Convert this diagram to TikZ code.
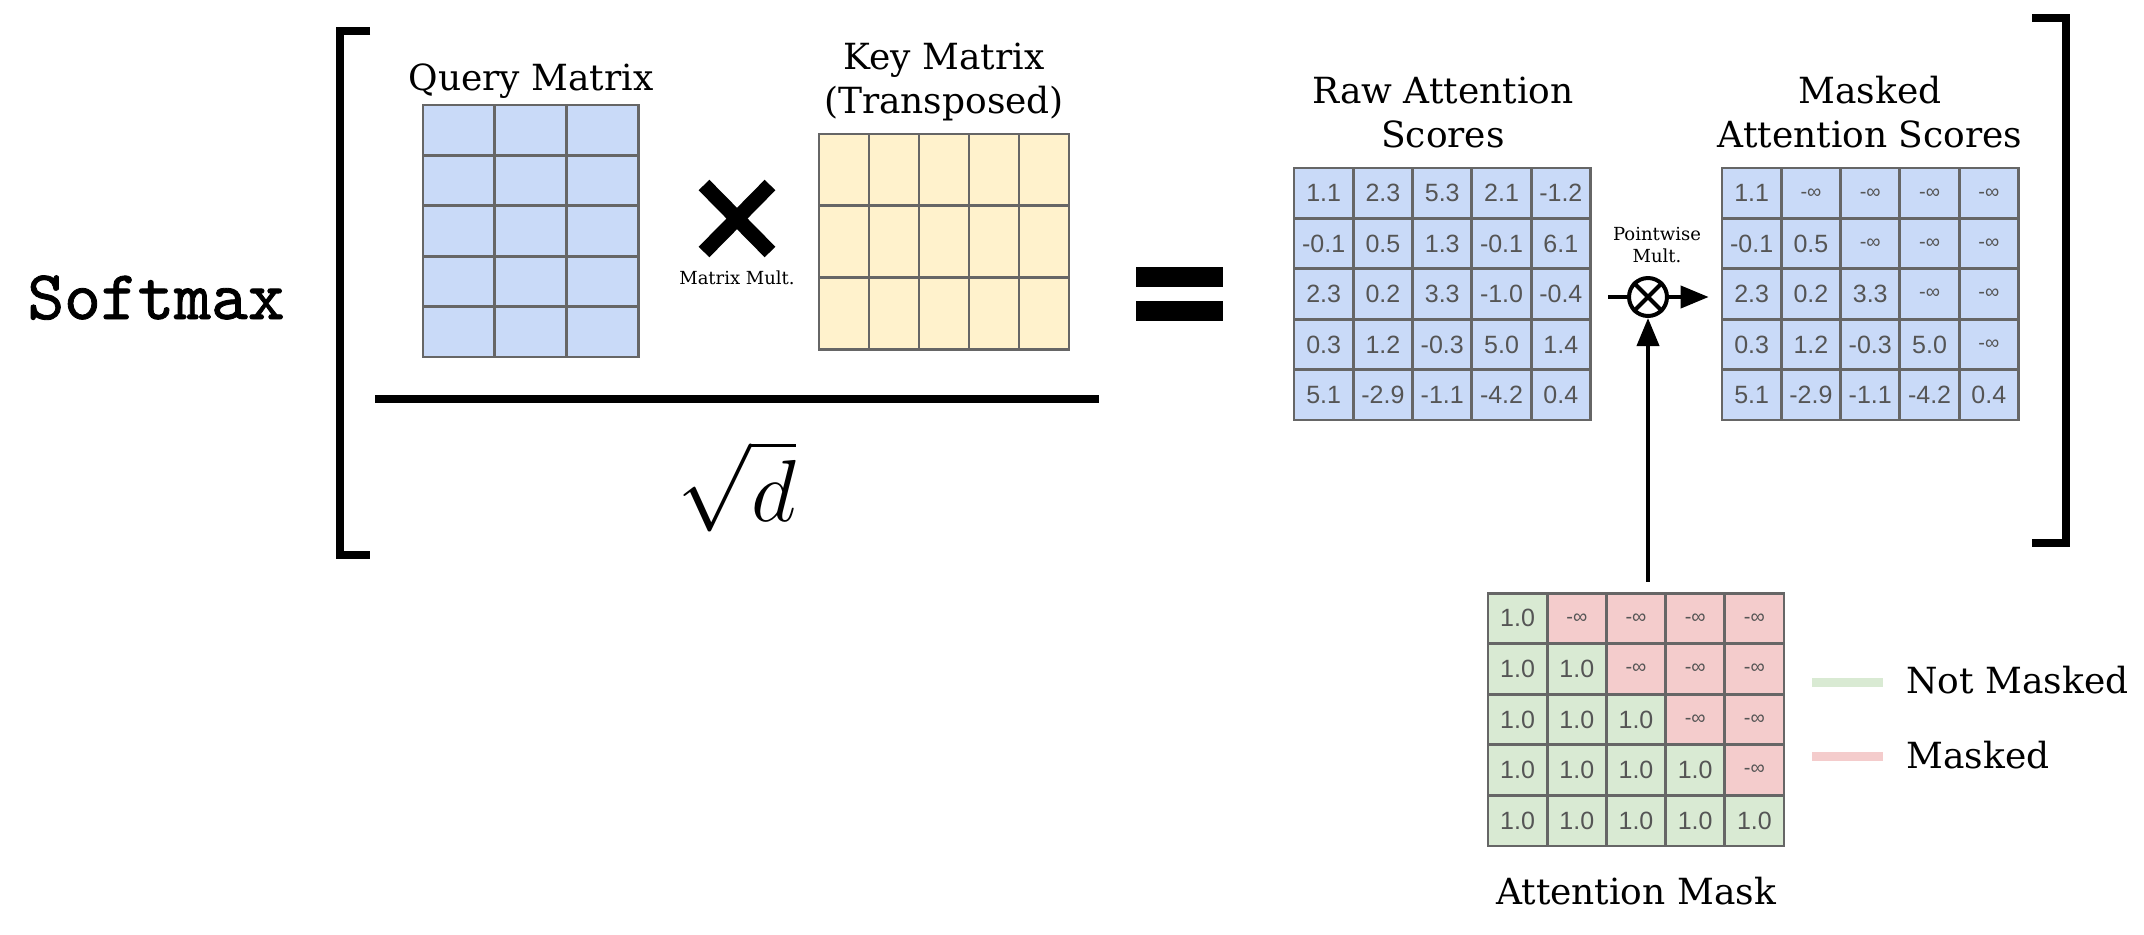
\RequirePackage{fix-cm}
\documentclass[tikz,border=0pt]{standalone}
\usepackage{amsmath}
\usepackage{fontspec}
\setmainfont{DejaVu Serif}
\setsansfont{Liberation Sans}
\newfontfamily\smfont[FakeBold=1.2]{lmmono10-regular.otf}
\usepackage{tikz}
\usetikzlibrary{arrows.meta}

\definecolor{qblue}{HTML}{C9DAF8}
\definecolor{kyellow}{HTML}{FFF2CC}
\definecolor{mgreen}{HTML}{D9EAD3}
\definecolor{mred}{HTML}{F4CCCC}
\definecolor{gridgray}{HTML}{666666}
\definecolor{numgray}{HTML}{555555}
\newcommand{\ninf}{{\fontsize{10}{10}\selectfont -∞}}

\begin{document}
\begin{tikzpicture}[x=0.5pt,y=-0.5pt,
  lbl/.style={inner sep=0pt,font=\fontsize{18}{22}\selectfont,align=center},
  small/.style={inner sep=0pt,font=\fontsize{9}{11}\selectfont,align=center},
  cell/.style={draw=gridgray,line width=1.4pt,inner sep=0pt,minimum width=29.6pt,minimum height=25.2pt,text=numgray,font=\sffamily\fontsize{12.5}{12.5}\selectfont},
  qcell/.style={cell,fill=qblue,minimum width=35.85pt},
  kcell/.style={cell,fill=kyellow,minimum width=25pt,minimum height=35.85pt},
  brack/.style={line width=4pt},
  arr/.style={line width=2pt,-{Triangle[length=14pt,width=11pt]}}]
  \useasboundingbox (0,0) rectangle (2144,934);

  \node[inner sep=0pt,font=\smfont\fontsize{35}{35}\selectfont,anchor=base] (sm) at (156,319) {Softmax};
  \draw[brack] (370,31) -- (340,31) -- (340,555) -- (370,555);
  \draw[brack] (2032,18) -- (2066,18) -- (2066,543) -- (2032,543);

  % query and key
  \node[lbl,anchor=base] (ql) at (531,90) {Query Matrix};
  \foreach \i in {1,...,5}
    \foreach \j in {1,2,3}
      \node[qcell] (q\i\j) at ({423+71.7*(\j-0.5)},{105+50.4*(\i-0.5)}) {};
  \draw[line width=7.5pt] (704,185) -- (770,252);
  \draw[line width=7.5pt] (770,185) -- (704,252);
  \node[small,anchor=base] (mm) at (737,284) {Matrix Mult.};
  \node[lbl] (kl) at (944,82) {Key Matrix\\(Transposed)};
  \foreach \i in {1,2,3}
    \foreach \j in {1,...,5}
      \node[kcell] (k\i\j) at ({819+50*(\j-0.5)},{134+71.7*(\i-0.5)}) {};
  \draw[line width=4.2pt] (375,399) -- (1099,399);
  \node[inner sep=0pt,font=\fontsize{44}{44}\selectfont] (sq) at (737,486) {$\sqrt{d}$};

  \fill (1136,267) rectangle (1223,287);
  \fill (1136,301) rectangle (1223,321);

  % scores
  \node[lbl] (rl) at (1443,112) {Raw Attention\\Scores};
  \foreach \row [count=\i] in {{1.1,2.3,5.3,2.1,-1.2},{-0.1,0.5,1.3,-0.1,6.1},{2.3,0.2,3.3,-1.0,-0.4},{0.3,1.2,-0.3,5.0,1.4},{5.1,-2.9,-1.1,-4.2,0.4}}
    \foreach \v [count=\j] in \row
      \node[cell,fill=qblue] (raw\i\j) at ({1294+59.3*(\j-0.5)},{168+50.4*(\i-0.5)}) {\v};
  \node[lbl] (ml) at (1870,112) {Masked\\Attention Scores};
  \foreach \row [count=\i] in {{1.1,\ninf,\ninf,\ninf,\ninf},{-0.1,0.5,\ninf,\ninf,\ninf},{2.3,0.2,3.3,\ninf,\ninf},{0.3,1.2,-0.3,5.0,\ninf},{5.1,-2.9,-1.1,-4.2,0.4}}
    \foreach \v [count=\j] in \row
      \node[cell,fill=qblue] (msk\i\j) at ({1722+59.3*(\j-0.5)},{168+50.4*(\i-0.5)}) {\v};

  % mask
  \foreach \i in {1,...,5}
    \foreach \j in {1,...,5}{
      \ifnum\j>\i
        \node[cell,fill=mred] (am\i\j) at ({1488+59.2*(\j-0.5)},{593+50.6*(\i-0.5)}) {\ninf};
      \else
        \node[cell,fill=mgreen] (am\i\j) at ({1488+59.2*(\j-0.5)},{593+50.6*(\i-0.5)}) {1.0};
      \fi}
  \node[lbl,anchor=base] (al) at (1636,904) {Attention Mask};

  % pointwise mult
  \node[small] (pw) at (1657,245) {Pointwise\\Mult.};
  \node[circle,draw,line width=2pt,minimum size=19pt,inner sep=0pt] (ot) at (1648,297) {};
  \draw[line width=2pt] (ot.45) -- (ot.225) (ot.135) -- (ot.315);
  \coordinate (pin) at (1608,297);
  \draw[line width=2pt] (pin) -- (ot.west);
  \draw[arr,shorten >=6pt] (ot.east) -- (ot.east -| msk31.west);
  \draw[arr,shorten <=5pt] (ot.south |- am13.north) -- (ot.south);

  % legend
  \draw[mgreen,line width=4.5pt] (1812,682) -- (1883,682);
  \node[lbl,anchor=base west] (nm) at (1906,693) {Not Masked};
  \draw[mred,line width=4.5pt] (1812,756) -- (1883,756);
  \node[lbl,anchor=base west] (ms) at (1906,768) {Masked};
\end{tikzpicture}
\end{document}
